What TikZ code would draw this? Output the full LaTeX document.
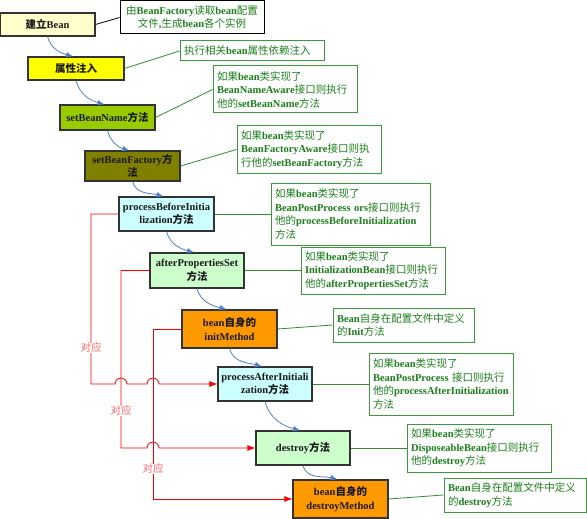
\documentclass[tikz,border=0pt]{standalone}
\usepackage{fontspec}
\setmainfont{Liberation Serif}
\newfontfamily\zhfont{Noto Sans CJK SC}
\newcommand\zh[1]{{\zhfont\mdseries #1}}
\newcommand\zhb[1]{{\zhfont\bfseries #1}}
\usetikzlibrary{arrows.meta,calc}
\definecolor{cA}{HTML}{FFFFCC}
\definecolor{cB}{HTML}{FFFF00}
\definecolor{cC}{HTML}{99CC00}
\definecolor{cD}{HTML}{808000}
\definecolor{cE}{HTML}{CCFFFF}
\definecolor{cF}{HTML}{CCFFCC}
\definecolor{cG}{HTML}{FF9900}
\definecolor{noteborder}{HTML}{3C9A3C}
\definecolor{notetext}{HTML}{1B7F1B}
\definecolor{linkgreen}{HTML}{2E8B2E}
\definecolor{flowblue}{HTML}{4F7FC8}
\definecolor{pairred}{HTML}{FF0000}
\definecolor{labelred}{HTML}{FF6666}
\begin{document}
\begin{tikzpicture}[x=1pt,y=-1pt,
  font=\fontsize{10.5}{13.5}\selectfont\bfseries,
  box/.style={draw=black!80, line width=1.1pt, align=center, inner sep=1pt, text=black!90},
  note/.style={draw=noteborder, line width=1pt, align=left, text=notetext, inner xsep=4pt, inner ysep=1pt, fill=white},
  link/.style={draw=linkgreen, line width=0.8pt},
  flow/.style={draw=flowblue, line width=0.8pt, -{Latex[length=7pt,width=5.5pt]}},
  pair/.style={draw=pairred, line width=0.8pt, -{Latex[length=8pt,width=6pt]}},
  pairlabel/.style={fill=white, inner sep=0.5pt, text=labelred, font=\fontsize{10.5}{12}\selectfont}
]
\useasboundingbox (0,0) rectangle (587,519);

% main boxes
\node[box, fill=cA, minimum width=95pt, minimum height=23pt] (b1) at (47.5,24.5) {\zhb{建立}Bean};
\node[box, fill=cB, minimum width=96pt, minimum height=23pt] (b2) at (76,68.5) {\zhb{属性注入}};
\node[box, fill=cC, minimum width=95pt, minimum height=25pt] (b3) at (107.5,117.5) {setBeanName\zhb{方法}};
\node[box, fill=cD, minimum width=95pt, minimum height=30pt] (b4) at (132.5,166) {setBeanFactory\zhb{方}\\\zhb{法}};
\node[box, fill=cE, minimum width=95pt, minimum height=34pt] (b5) at (166.5,214) {processBeforeInitia\\lization\zhb{方法}};
\node[box, fill=cF, minimum width=94pt, minimum height=35pt] (b6) at (197,270.5) {afterPropertiesSet\\\zhb{方法}};
\node[box, fill=cG, minimum width=95pt, minimum height=38pt] (b7) at (229.5,329) {bean\zhb{自身的}\\initMethod};
\node[box, fill=cE, minimum width=94pt, minimum height=34pt] (b8) at (265,384) {processAfterInitiali\\zation\zhb{方法}};
\node[box, fill=cF, minimum width=94pt, minimum height=34pt] (b9) at (303,448) {destroy\zhb{方法}};
\node[box, fill=cG, minimum width=95pt, minimum height=38pt] (b10) at (340.5,499) {bean\zhb{自身的}\\destroyMethod};

% notes
\node[note, draw=black, align=center, text width=136pt, minimum height=33pt] (n1) at (192,17.5) {\zh{由}BeanFactory\zh{读取}bean\zh{配置}\\\zh{文件},\zh{生成}bean\zh{各个实例}};
\node[note, text width=136pt, minimum height=20pt] (n2) at (252,51) {\zh{执行相关}bean\zh{属性依赖注入}};
\node[note, text width=136pt, minimum height=47pt] (n3) at (285,89.5) {\zh{如果}bean\zh{类实现了}\\BeanNameAware\zh{接口则执行}\\\zh{他的}setBeanName\zh{方法}};
\node[note, text width=136pt, minimum height=47pt] (n4) at (309,149.5) {\zh{如果}bean\zh{类实现了}\\BeanFactoryAware\zh{接口则执}\\\zh{行他的}setBeanFactory\zh{方法}};
\node[note, text width=151pt, minimum height=62pt] (n5) at (350.5,214) {\zh{如果}bean\zh{类实现了}\\BeanPostProcess ors\zh{接口则执行}\\\zh{他的}processBeforeInitialization\\\zh{方法}};
\node[note, text width=136pt, minimum height=47pt] (n6) at (373,270.5) {\zh{如果}bean\zh{类实现了}\\InitializationBean\zh{接口则执行}\\\zh{他的}afterPropertiesSet\zh{方法}};
\node[note, text width=133pt, minimum height=34pt] (n7) at (403.5,325) {Bean\zh{自身在配置文件中定义}\\\zh{的}Init\zh{方法}};
\node[note, text width=136pt, minimum height=62pt] (n8) at (441,384) {\zh{如果}bean\zh{类实现了}\\BeanPostProcess \zh{接口则执行}\\\zh{他的}processAfterInitialization\\\zh{方法}};
\node[note, text width=136pt, minimum height=48pt] (n9) at (479,448) {\zh{如果}bean\zh{类实现了}\\DisposeableBean\zh{接口则执行}\\\zh{他的}destroy\zh{方法}};
\node[note, text width=134pt, minimum height=34pt] (n10) at (515,495) {Bean\zh{自身在配置文件中定义}\\\zh{的}destroy\zh{方法}};

% box-to-note links
\draw[line width=0.8pt] (b1.east) -- (n1.west);
\foreach \i in {2,...,10} \draw[link] (b\i.east) -- (n\i.west);

% flow arrows
\foreach \a/\b in {1/2,2/3,3/4,4/5,5/6,6/7,7/8,8/9,9/10}
  \draw[flow] (b\a.south) to[out=-75,in=165] ($(b\b.north)+(-3,0)$);

% pairing red connectors with hops
\draw[pair] (b5.west) -- (91,214) -- (91,384) -- (115,384)
  arc[start angle=180,end angle=0,radius=6pt] -- (147,384)
  arc[start angle=180,end angle=0,radius=6pt] -- (b8.west);
\draw[pair] (b6.west) -- (121,270.5) -- (121,448) -- (147,448)
  arc[start angle=180,end angle=0,radius=6pt] -- (b9.west);
\draw[pair] (b7.west) -- (153,329) -- (153,499) -- (b10.west);

\node[pairlabel] (l1) at (91,348) {\zh{对应}};
\node[pairlabel] (l2) at (121,411) {\zh{对应}};
\node[pairlabel] (l3) at (153,469) {\zh{对应}};
\end{tikzpicture}
\end{document}
